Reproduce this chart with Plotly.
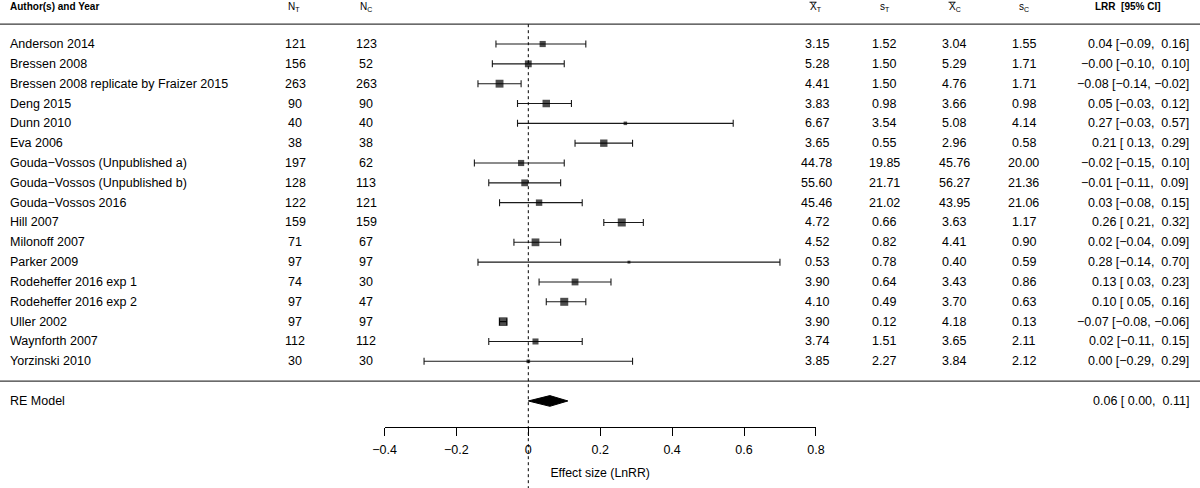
import plotly.graph_objects as go

# ---------------- data ----------------
studies = [
    "Anderson 2014", "Bressen 2008", "Bressen 2008 replicate by Fraizer 2015",
    "Deng 2015", "Dunn 2010", "Eva 2006", "Gouda\u2212Vossos (Unpublished a)",
    "Gouda\u2212Vossos (Unpublished b)", "Gouda\u2212Vossos 2016", "Hill 2007",
    "Milonoff 2007", "Parker 2009", "Rodeheffer 2016 exp 1", "Rodeheffer 2016 exp 2",
    "Uller 2002", "Waynforth 2007", "Yorzinski 2010",
]
n_t = [121, 156, 263, 90, 40, 38, 197, 128, 122, 159, 71, 97, 74, 97, 97, 112, 30]
n_c = [123, 52, 263, 90, 40, 38, 62, 113, 121, 159, 67, 97, 30, 47, 97, 112, 30]
mean_t = [3.15, 5.28, 4.41, 3.83, 6.67, 3.65, 44.78, 55.60, 45.46, 4.72, 4.52, 0.53, 3.90, 4.10, 3.90, 3.74, 3.85]
sd_t = [1.52, 1.50, 1.50, 0.98, 3.54, 0.55, 19.85, 21.71, 21.02, 0.66, 0.82, 0.78, 0.64, 0.49, 0.12, 1.51, 2.27]
mean_c = [3.04, 5.29, 4.76, 3.66, 5.08, 2.96, 45.76, 56.27, 43.95, 3.63, 4.41, 0.40, 3.43, 3.70, 4.18, 3.65, 3.84]
sd_c = [1.55, 1.71, 1.71, 0.98, 4.14, 0.58, 20.00, 21.36, 21.06, 1.17, 0.90, 0.59, 0.86, 0.63, 0.13, 2.11, 2.12]
lrr = [0.04, -0.0, -0.08, 0.05, 0.27, 0.21, -0.02, -0.01, 0.03, 0.26, 0.02, 0.28, 0.13, 0.10, -0.07, 0.02, 0.00]
ci_lb = [-0.09, -0.10, -0.14, -0.03, -0.03, 0.13, -0.15, -0.11, -0.08, 0.21, -0.04, -0.14, 0.03, 0.05, -0.08, -0.11, -0.29]
ci_ub = [0.16, 0.10, -0.02, 0.12, 0.57, 0.29, 0.10, 0.09, 0.15, 0.32, 0.09, 0.70, 0.23, 0.16, -0.06, 0.15, 0.29]
re_label = "RE Model"
re_est, re_lb, re_ub = 0.06, 0.00, 0.11
x_ticks = [-0.4, -0.2, 0, 0.2, 0.4, 0.6, 0.8]
axis_title = "Effect size (LnRR)"
tau2 = 0.0065  # estimated between-study variance (for point sizes)

# ---------------- layout constants ----------------
W, H = 1200, 488
PX_ZERO, PX_UNIT = 528.3, 359.5
ROW_PX, ROW1_PX = 19.83, 361.3
HEAD_PX = 6.8
FONT = "Liberation Sans, Arial, Helvetica, sans-serif"
BODY = 12.5
HEAD = 10

k = len(studies)
rows = [k - i for i in range(k)]
y_top = 1 + ROW1_PX / ROW_PX
y_bot = 1 - (H - ROW1_PX) / ROW_PX
axis_row = -2.33
re_row = -1
head_row = 1 + (ROW1_PX - HEAD_PX) / ROW_PX
line_rows = [k + 1, 0]

# point sizes proportional to model weights (0.5 .. 1.5 scale)
z = 1.959964
wts = [1.0 / (((u - l) / (2 * z)) ** 2 + tau2) for l, u in zip(ci_lb, ci_ub)]
wmin, wmax = min(wts), max(wts)
sizes = [5.8 * (0.5 + (w - wmin) / (wmax - wmin)) for w in wts]


def num(v, d=2):
    return f"{v:.{d}f}".replace("-", "\u2212")


def pad5(v):
    s = num(v)
    return "\u00a0" * (5 - len(s)) + s


ci_text = [f"{num(e)} [{pad5(l)},\u00a0{pad5(u)}]" for e, l, u in zip(lrr, ci_lb, ci_ub)]
re_text = f"{num(re_est)} [{pad5(re_lb)},\u00a0{pad5(re_ub)}]"
tick_text = ["0" if v == 0 else num(v, 1) for v in x_ticks]

fig = go.Figure()

# confidence intervals (drawn first)
fig.add_trace(go.Scatter(
    x=lrr, y=rows, mode="markers",
    marker=dict(size=1, color="rgba(0,0,0,0)"),
    error_x=dict(type="data", symmetric=False,
                 array=[u - e for u, e in zip(ci_ub, lrr)],
                 arrayminus=[e - l for e, l in zip(lrr, ci_lb)],
                 color="#1a1a1a", thickness=1.1, width=3.5),
    cliponaxis=False, hoverinfo="skip", showlegend=False,
))
# point estimates on top
fig.add_trace(go.Scatter(
    x=lrr, y=rows, mode="markers",
    marker=dict(symbol="square", color="black", size=sizes, line=dict(width=0)),
    cliponaxis=False, hoverinfo="skip", showlegend=False,
))

dh = 0.27
fig.add_trace(go.Scatter(
    x=[re_lb, re_est, re_ub, re_est, re_lb],
    y=[re_row, re_row + dh, re_row, re_row - dh, re_row],
    mode="lines", fill="toself", fillcolor="black",
    line=dict(color="black", width=1), hoverinfo="skip", showlegend=False,
))

shapes = []
for r in line_rows:
    shapes.append(dict(type="line", xref="paper", yref="y", x0=0, x1=1, y0=r, y1=r,
                       line=dict(color="#3a3a3a", width=1.3)))
shapes.append(dict(type="line", xref="x", yref="y", x0=0, x1=0, y0=line_rows[0], y1=y_bot,
                   line=dict(color="black", width=1, dash="dot")))

ann = []


def add_text(px, row, text, anchor="center", size=BODY):
    ann.append(dict(x=px / W, xref="paper", y=row, yref="y", text=text, showarrow=False,
                    xanchor=anchor, yanchor="middle", font=dict(family=FONT, size=size, color="black")))


# header
add_text(8, head_row, "<b>Author(s) and Year</b>", "left", HEAD)
add_text(294, head_row, "N<sub>T</sub>", "center", HEAD)
add_text(366, head_row, "N<sub>C</sub>", "center", HEAD)
add_text(816, head_row, "X<sub>T</sub>", "center", HEAD)
add_text(885, head_row, "s<sub>T</sub>", "center", HEAD)
add_text(955, head_row, "X<sub>C</sub>", "center", HEAD)
add_text(1024, head_row, "s<sub>C</sub>", "center", HEAD)
add_text(1163, head_row, "<b>LRR\u00a0\u00a0[95% CI]</b>", "right", HEAD)

# overbars on the X-bar headers
for cx in (816, 955):
    y_bar = head_row + 4.6 / ROW_PX
    shapes.append(dict(type="line", xref="paper", yref="y",
                       x0=(cx - 6.5) / W, x1=(cx + 0.5) / W, y0=y_bar, y1=y_bar,
                       line=dict(color="black", width=0.9)))

for i in range(k):
    r = rows[i]
    add_text(8, r, studies[i], "left")
    add_text(295, r, str(n_t[i]))
    add_text(366, r, str(n_c[i]))
    add_text(816.5, r, f"{mean_t[i]:.2f}")
    add_text(884, r, f"{sd_t[i]:.2f}")
    add_text(954, r, f"{mean_c[i]:.2f}")
    add_text(1023.5, r, f"{sd_c[i]:.2f}")
    add_text(1191, r, ci_text[i], "right")

add_text(8, re_row, re_label, "left")
add_text(1191, re_row, re_text, "right")

x_dom = [(PX_ZERO + x_ticks[0] * PX_UNIT) / W, (PX_ZERO + x_ticks[-1] * PX_UNIT) / W]

fig.update_layout(
    width=W, height=H, autosize=False,
    margin=dict(l=0, r=0, t=0, b=0, pad=0, autoexpand=False),
    paper_bgcolor="white", plot_bgcolor="rgba(0,0,0,0)",
    font=dict(family=FONT, size=BODY, color="black"),
    showlegend=False,
    shapes=shapes, annotations=ann,
    xaxis=dict(domain=x_dom, range=[x_ticks[0], x_ticks[-1]], anchor="free",
               position=(axis_row - y_bot) / (y_top - y_bot), side="bottom",
               showgrid=False, zeroline=False, showline=True, linecolor="black", linewidth=1,
               ticks="outside", ticklen=8, tickwidth=1, tickcolor="black",
               tickvals=x_ticks, ticktext=tick_text, automargin=False,
               tickfont=dict(family=FONT, size=BODY, color="black"),
               ticklabelstandoff=3,
               title=dict(text=axis_title, font=dict(family=FONT, size=12.3, color="black"), standoff=12)),
    yaxis=dict(domain=[0, 1], range=[y_bot, y_top], visible=False, showgrid=False,
               zeroline=False, automargin=False),
)

fig.write_html(
    "out.html",
    config={"responsive": False, "displayModeBar": False},
    post_script="document.body.style.margin='0';document.body.style.overflow='hidden';",
)
